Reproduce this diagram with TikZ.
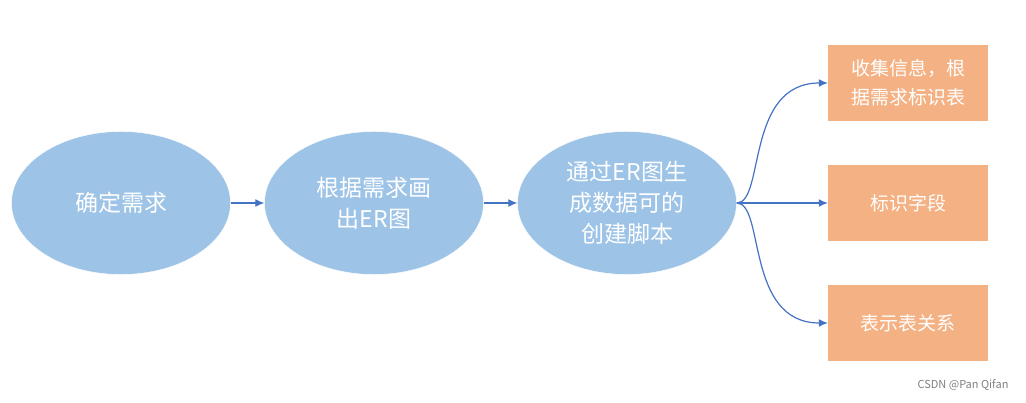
\documentclass[tikz,border=0pt]{standalone}
\usepackage{fontspec}
\setmainfont{Noto Sans CJK SC}
\usetikzlibrary{shapes.geometric,arrows.meta}
\definecolor{ell}{HTML}{9DC3E6}
\definecolor{box}{HTML}{F4B183}
\definecolor{arr}{HTML}{4472C4}
\begin{document}
\begin{tikzpicture}[x=1pt,y=-1pt,
  ellnode/.style={ellipse,fill=ell,draw=white,minimum width=219pt,minimum height=143pt,inner sep=0pt,text=white,font=\fontsize{23}{31}\selectfont,align=center},
  boxnode/.style={rectangle,fill=box,minimum width=160pt,minimum height=76pt,inner sep=0pt,text=white,font=\fontsize{19}{29}\selectfont,align=center},
  conn/.style={arr,line width=1.2pt,-{Latex[length=9pt,width=8pt]}}]
\useasboundingbox (0,0) rectangle (1026,403);
\fill[white] (0,0) rectangle (1026,403);
\node[ellnode] (e1) at (121,203) {确定需求};
\node[ellnode] (e2) at (374,203) {根据需求画\\出ER图};
\node[ellnode] (e3) at (627,203) {通过ER图生\\成数据可的\\创建脚本};
\node[boxnode] (b1) at (908,83) {收集信息，根\\据需求标识表};
\node[boxnode] (b2) at (908,203) {标识字段};
\node[boxnode] (b3) at (908,323) {表示表关系};
\draw[conn] (e1) -- (e2);
\draw[conn] (e2) -- (e3);
\draw[conn] (e3) -- (b2);
\draw[conn] (e3.east) .. controls (765,203) and (745,83) .. (b1.west);
\draw[conn] (e3.east) .. controls (765,203) and (745,323) .. (b3.west);
\node[text=gray,font=\fontsize{11}{13}\selectfont,anchor=east] (wm) at (1012,385) {CSDN @Pan Qifan};
\end{tikzpicture}
\end{document}
